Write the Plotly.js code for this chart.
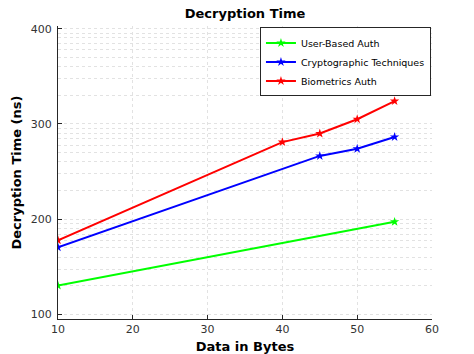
<!DOCTYPE html>
<html>
<head>
<meta charset="utf-8">
<script src="https://cdn.plot.ly/plotly-3.0.1.min.js"></script>
<style>html,body{margin:0;padding:0;background:#fff;}#chart{width:474px;height:354px;}</style>
</head>
<body>
<div id="chart"></div>
<script>
// Data
const seriesNames = ["User-Based Auth", "Cryptographic Techniques", "Biometrics Auth"];
const userX = [10, 55];
const userY = [130.4, 197.4];
const cryptoX = [10, 45, 50, 55];
const cryptoY = [170.6, 266.5, 274, 286.4];
const bioX = [10, 40, 45, 50, 55];
const bioY = [178, 281, 290, 305, 324];
const xTicks = [10, 20, 30, 40, 50, 60];
const yTicks = [100, 200, 300, 400];
const colors = ["#00ff00", "#0000ff", "#ff0000"];

const yRange = [95.4, 402.8];
// y axis looks log-decade gridded between labelled ticks; overlay a log axis for minor grid
const logRange = [(yRange[0] - 100) / 100, (yRange[1] - 100) / 100];

function mk(x, y, i) {
  return {
    x: x, y: y, type: "scatter", mode: "lines+markers", name: seriesNames[i],
    line: {color: colors[i], width: 2},
    marker: {symbol: "star", size: 7, color: colors[i]}
  };
}
const traces = [
  mk(userX, userY, 0),
  mk(cryptoX, cryptoY, 1),
  mk(bioX, bioY, 2),
  {x: [], y: [], yaxis: "y2", type: "scatter", showlegend: false, hoverinfo: "skip"}
];

const font = {family: "DejaVu Sans, sans-serif", size: 11, color: "#333333"};
const gridCol = "#e2e2e2";
const layout = {
  width: 474, height: 354,
  margin: {l: 58, r: 42, t: 26, b: 35},
  paper_bgcolor: "#fff", plot_bgcolor: "#fff",
  font: font,
  title: {text: "<b>Decryption Time</b>", font: {family: "DejaVu Sans, sans-serif", size: 13, color: "#000"}, x: 0.517, xanchor: "center", y: 0.975, yanchor: "top"},
  xaxis: {
    range: [10, 60], tickvals: xTicks, ticktext: xTicks.map(String),
    showline: true, linecolor: "#262626", linewidth: 1,
    ticks: "inside", ticklen: 4, tickcolor: "#262626",
    showgrid: true, gridcolor: gridCol, griddash: "dot", gridwidth: 1,
    zeroline: false,
    title: {text: "<b>Data in Bytes</b>", font: {family: "DejaVu Sans, sans-serif", size: 13, color: "#000"}, standoff: 6}
  },
  yaxis: {
    range: yRange, tickvals: yTicks, ticktext: yTicks.map(String),
    showline: true, linecolor: "#262626", linewidth: 1,
    ticks: "inside", ticklen: 4, tickcolor: "#262626", ticklabelstandoff: 3,
    showgrid: false, zeroline: false,
    title: {text: "<b>Decryption Time (ns)</b>", font: {family: "DejaVu Sans, sans-serif", size: 13, color: "#000"}, standoff: 6}
  },
  yaxis2: {
    type: "log", range: logRange, overlaying: "y", side: "left",
    dtick: "D1", showticklabels: false, ticks: "",
    showgrid: true, gridcolor: gridCol, griddash: "dot", gridwidth: 1,
    showline: false, zeroline: false
  },
  legend: {
    x: 0.54, y: 0.995, xanchor: "left", yanchor: "top",
    bgcolor: "#fff", bordercolor: "#262626", borderwidth: 1,
    font: {family: "DejaVu Sans, sans-serif", size: 9.5, color: "#000"},
    tracegroupgap: 0, itemwidth: 30
  },
  showlegend: true
};
Plotly.newPlot("chart", traces, layout, {displayModeBar: false, staticPlot: true});
</script>
</body>
</html>
